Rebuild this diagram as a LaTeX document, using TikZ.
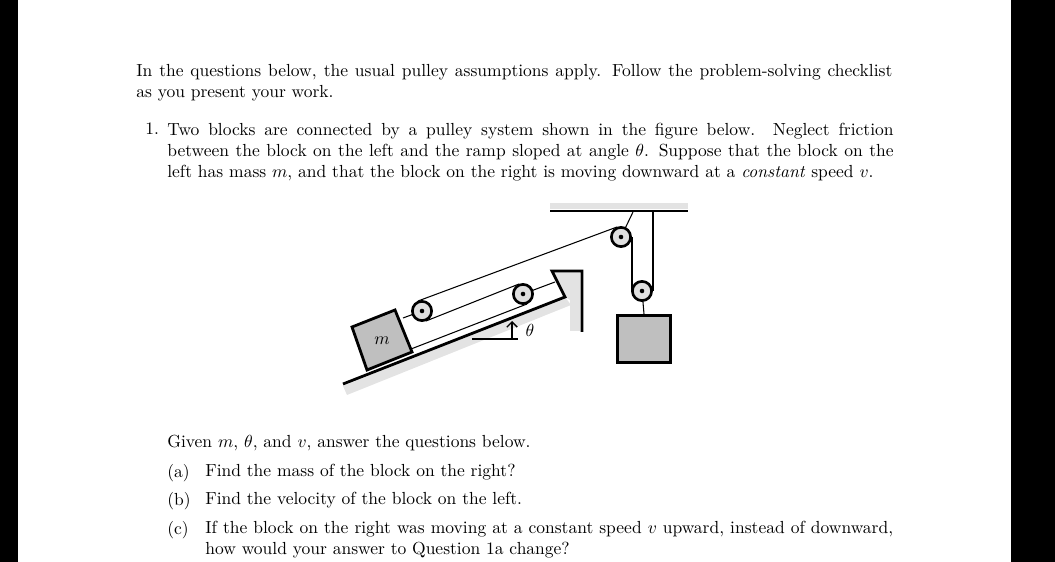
\documentclass[tikz,border=0pt]{standalone}
\usetikzlibrary{arrows.meta}
\begin{document}
\begin{tikzpicture}[x=0.5714pt,y=-0.5714pt,
  txt/.style={anchor=north west,inner sep=0pt,align=justify},
  thick3/.style={line width=1.6pt},
  rope/.style={line width=0.6pt},
  pulley/.style={circle,draw,line width=1.5pt,fill=gray!25,minimum size=11pt,inner sep=0pt},
  dotc/.style={circle,fill=black,minimum size=2.6pt,inner sep=0pt}]
\useasboundingbox (0,0) rectangle (1055,562);
\fill[black] (0,0) rectangle (18,562);
\fill[black] (1011,0) rectangle (1055,562);
% text
\node[txt,text width=432pt] (p1) at (136,64) {In the questions below, the usual pulley assumptions apply. Follow the problem-solving checklist\linebreak as you present your work.\par};
\node[anchor=north west,inner sep=0pt] (n1) at (145,123) {1.};
\node[txt,text width=415pt] (p2) at (167,123) {Two blocks are connected by a pulley system shown in the figure below.\ \ Neglect friction\linebreak between the block on the left and the ramp sloped at angle $\theta$. Suppose that the block on the\linebreak left has mass $m$, and that the block on the right is moving downward at a \emph{constant} speed $v$.\par};
\node[anchor=north west,inner sep=0pt] (g) at (167,435) {Given $m$, $\theta$, and $v$, answer the questions below.};
\node[anchor=north west,inner sep=0pt] (la) at (167,464) {(a)};
\node[anchor=north west,inner sep=0pt] (ta) at (205,464) {Find the mass of the block on the right?};
\node[anchor=north west,inner sep=0pt] (lb) at (167,492) {(b)};
\node[anchor=north west,inner sep=0pt] (tb) at (205,492) {Find the velocity of the block on the left.};
\node[anchor=north west,inner sep=0pt] (lc) at (167,521) {(c)};
\node[txt,text width=393pt] (tc) at (205,521) {If the block on the right was moving at a constant speed $v$ upward, instead of downward,\linebreak how would your answer to Question 1a change?\par};
% figure: grey shading
\fill[gray!22] (343,386) -- (565,297) -- (571,305) -- (347,395) -- cycle;
\fill[gray!22] (553,272) -- (580,272) -- (580,331) -- (570,331) -- (570,300) -- (565,297) -- cycle;
\fill[gray!22] (550,203) rectangle (688,209);
% ramp & wedge
\draw[thick3] (343,384) -- (565,297) -- (552,271) -- (582,271) -- (582,332);
% ceiling
\draw[thick3] (550,211) -- (688,211);
\coordinate (ceilA) at (633,212);
\coordinate (ceilB) at (653,212);
% left block
\draw[thick3,fill=gray!50] (352,327) -- (395,310) -- (412,352) -- (367,370) -- cycle;
\node (m) at (382,341) {$m$};
% right block
\node[draw,thick3,fill=gray!50,minimum width=30pt,minimum height=27pt,inner sep=0pt,anchor=north] (R) at (644,314) {};
% pulley positions
\coordinate (A) at (621,237);
\coordinate (B) at (642,291);
\coordinate (C) at (422,311);
\coordinate (D) at (523,294);
% ropes
\draw[rope] (A) -- (ceilA);
\draw[rope] (B) -- (R.north);
\draw[rope] (ceilB) -- (653,291);
\draw[rope] (632,237) -- (632,291);
\coordinate (Ctop) at (418,301);
\coordinate (Atop) at (617,227);
\coordinate (Cbot) at (426,321);
\coordinate (Dtop) at (519,284);
\coordinate (Dbot) at (527,304);
\coordinate (blk) at (411,349);
\coordinate (blkax) at (403,318);
\coordinate (wedgeax) at (555,282);
\draw[rope] (Ctop) -- (Atop);
\draw[rope] (Cbot) -- (Dtop);
\draw[rope] (blk) -- (Dbot);
\draw[rope] (blkax) -- (C);
\draw[rope] (D) -- (wedgeax);
\foreach \p in {A,B,C,D} {\node[pulley] (P\p) at (\p) {}; \node[dotc] at (\p) {};}
% angle
\coordinate (h1) at (472,339);
\coordinate (h2) at (518,339);
\coordinate (ar1) at (512,339);
\coordinate (ar2) at (512,321);
\draw[line width=0.8pt] (h1) -- (h2);
\draw[line width=0.8pt,-{Straight Barb[length=3pt]}] (ar1) -- (ar2);
\node (th) at (530,330) {$\theta$};
\end{tikzpicture}
\end{document}
